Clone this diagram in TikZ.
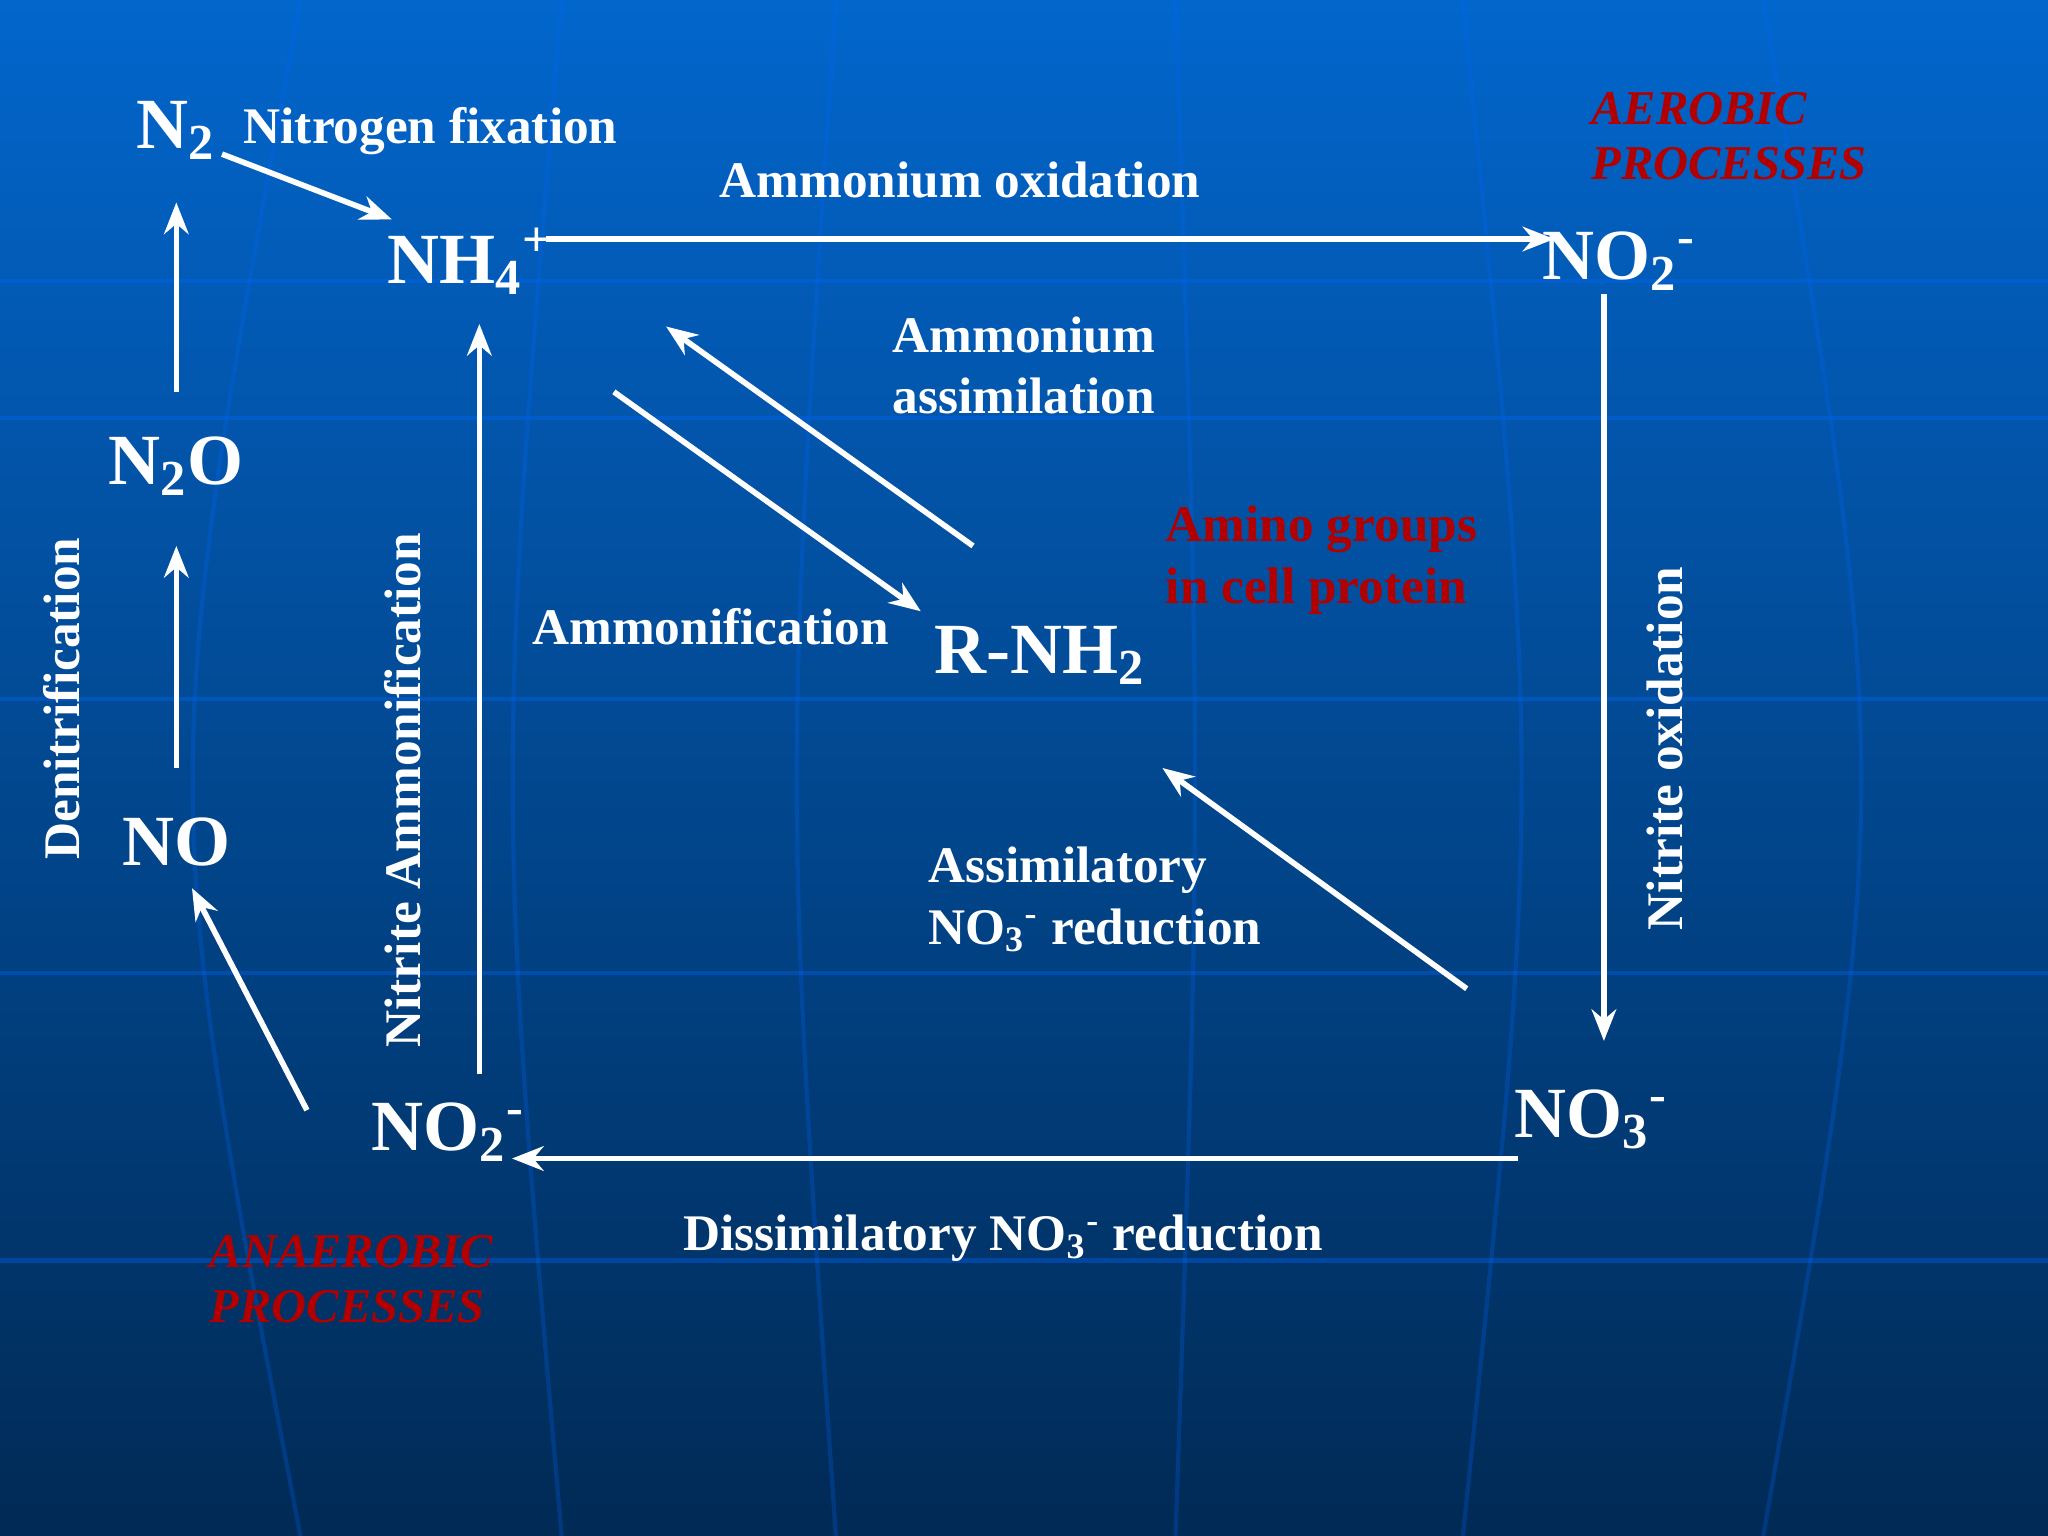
\documentclass[tikz,border=0pt]{standalone}
\usepackage{fontspec}
\setmainfont{Liberation Serif}
\usetikzlibrary{arrows.meta}
\begin{document}
\begin{tikzpicture}[x=0.013061cm,y=-0.013061cm,
 lab/.style={text=white,font=\bfseries\fontsize{14.6}{17.5}\selectfont,inner sep=0pt},
 chem/.style={text=white,font=\bfseries\fontsize{20.5}{24}\selectfont,inner sep=0pt},
 red/.style={text=red!70!black,font=\bfseries\itshape\fontsize{13.8}{15.7}\selectfont,inner sep=0pt,align=left},
 redup/.style={text=red!70!black,font=\bfseries\fontsize{14.6}{17.5}\selectfont,inner sep=0pt,align=left},
 arr/.style={white,line width=1.6pt,-{Stealth[length=9pt,width=7pt]}}]
\definecolor{topb}{HTML}{0266CC}\definecolor{botb}{HTML}{012A55}
\shade[top color=topb,bottom color=botb] (0,0) rectangle (1568,1176);
\useasboundingbox (0,0) rectangle (1568,1176);
\foreach \yy in {215,320,535,745,965}
 \draw[blue!60!cyan,opacity=0.35,line width=1.2pt] (0,\yy) -- (1568,\yy);
\foreach \xx/\bb in {430/380,640/600,900/920,1120/1180,1350/1450,230/120}
 \draw[blue!60!cyan,opacity=0.25,line width=1.2pt] (\xx,0) .. controls (\bb,600) .. (\xx,1176);
% nodes
\node[chem] (n2) at (135,100) {N\textsubscript{2}};
\node[lab,anchor=west] (nf) at (186,100) {Nitrogen fixation};
\node[chem] (nh4) at (360,200) {NH\textsubscript{4}\textsuperscript{+}};
\node[chem] (no2t) at (1240,200) {NO\textsubscript{2}\textsuperscript{-}};
\node[chem] (n2o) at (135,357) {N\textsubscript{2}O};
\node[chem] (nox) at (135,645) {NO};
\node[chem] (no2b) at (343,867) {NO\textsubscript{2}\textsuperscript{-}};
\node[chem] (no3) at (1218,857) {NO\textsubscript{3}\textsuperscript{-}};
\node[chem] (rnh2) at (796,502) {R-NH\textsubscript{2}};
\node[lab] (ao) at (735,138) {Ammonium oxidation};
\node[lab,anchor=north west,align=left] (aa) at (683,242) {Ammonium\\assimilation};
\node[redup,anchor=north west] (ag) at (892,387) {Amino groups\\in cell protein};
\node[lab] (am) at (544,480) {Ammonification};
\node[lab,anchor=north west,align=left] (as) at (710,648) {Assimilatory\\NO\textsubscript{3}\textsuperscript{-} reduction};
\node[lab] (dr) at (768,948) {Dissimilatory NO\textsubscript{3}\textsuperscript{-} reduction};
\node[lab,rotate=90] (nio) at (1275,573) {Nitrite oxidation};
\node[lab,rotate=90] (na) at (308,605) {Nitrite Ammonification};
\node[lab,rotate=90] (dn) at (47,535) {Denitrification};
\node[red,anchor=north west] (aer) at (1218,70) {AEROBIC\\PROCESSES};
\node[red,anchor=north west] (ana) at (160,945) {ANAEROBIC\\PROCESSES};
% arrow endpoints
\coordinate (a1) at (170,118); \coordinate (b1) at (300,168);
\coordinate (a2) at (135,300); \coordinate (b2) at (135,155);
\coordinate (a3) at (135,588); \coordinate (b3) at (135,418);
\coordinate (a4) at (235,850); \coordinate (b4) at (147,680);
\coordinate (a5) at (367,822); \coordinate (b5) at (367,248);
\coordinate (a6) at (418,183); \coordinate (b6) at (1190,183);
\coordinate (a7) at (1228,225); \coordinate (b7) at (1228,797);
\coordinate (a8) at (1162,887); \coordinate (b8) at (392,887);
\coordinate (a9) at (470,300); \coordinate (b9) at (705,468);
\coordinate (a10) at (745,418); \coordinate (b10) at (510,250);
\coordinate (a11) at (1123,757); \coordinate (b11) at (890,588);
\foreach \i in {1,...,11} \draw[arr] (a\i) -- (b\i);
\end{tikzpicture}
\end{document}
